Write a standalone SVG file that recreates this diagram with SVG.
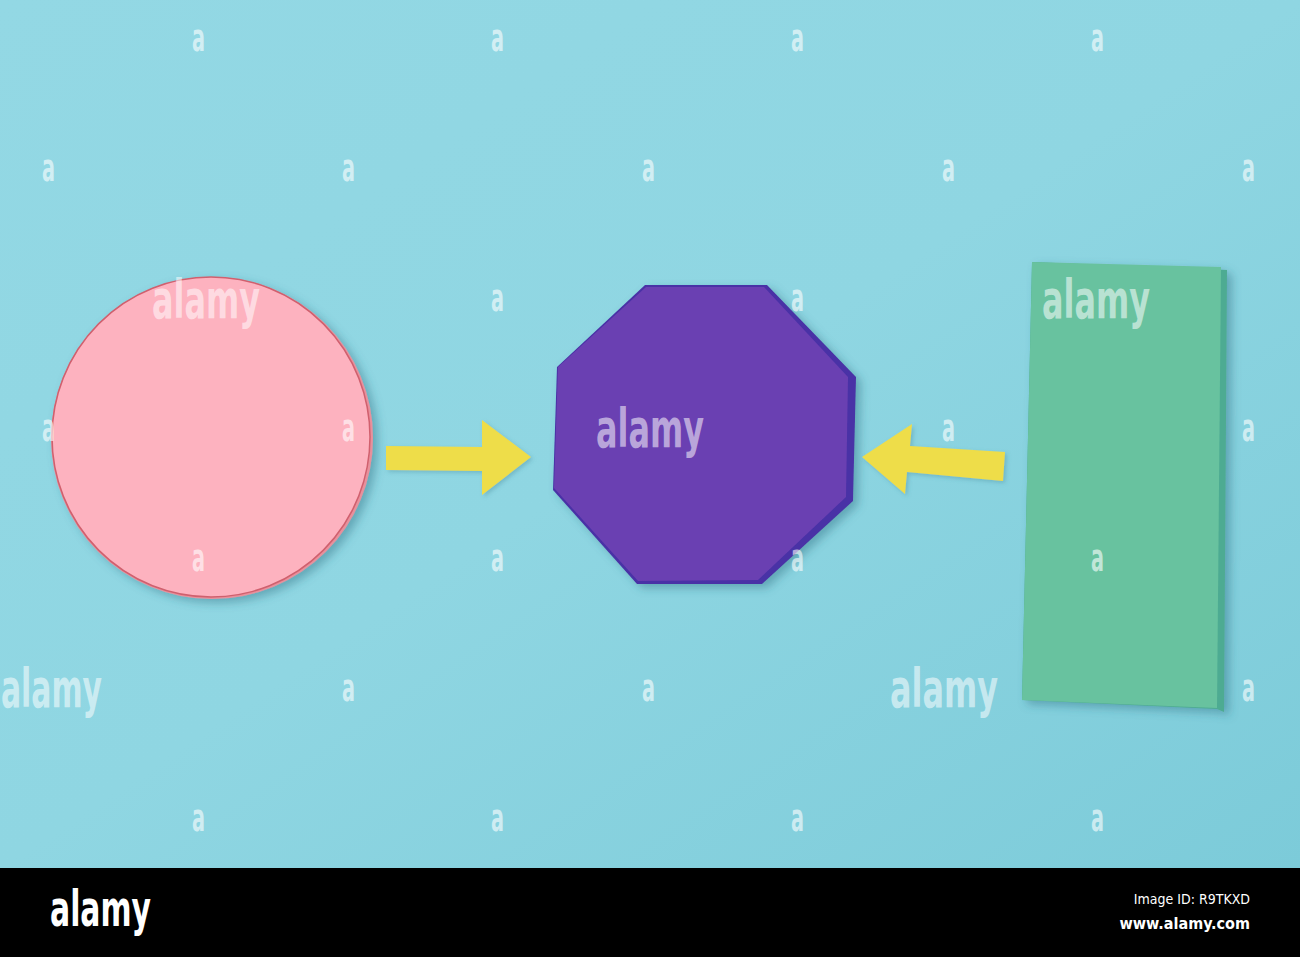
<svg xmlns="http://www.w3.org/2000/svg" width="1300" height="957" viewBox="0 0 1300 957">
<defs>
<linearGradient id="bg" x1="0" y1="0" x2="1" y2="1">
<stop offset="0" stop-color="#93d8e4"/>
<stop offset="0.5" stop-color="#8fd6e2"/>
<stop offset="1" stop-color="#7ccbd9"/>
</linearGradient>
<filter id="sh" x="-20%" y="-20%" width="150%" height="150%">
<feDropShadow dx="5" dy="4" stdDeviation="5" flood-color="#2a6f80" flood-opacity="0.45"/>
</filter>
<filter id="sh2" x="-20%" y="-40%" width="150%" height="190%">
<feDropShadow dx="2" dy="2" stdDeviation="2" flood-color="#3a8090" flood-opacity="0.35"/>
</filter>
</defs>
<style>
.wm{font-family:"DejaVu Sans Condensed","DejaVu Sans",sans-serif;font-weight:bold;fill:#ffffff;}
.big{font-size:54px;fill-opacity:0.55;}
.sm{font-size:38px;fill-opacity:0.6;}
.arrow{fill:#eedd48;filter:url(#sh2);}
.foot{font-family:"DejaVu Sans Condensed","DejaVu Sans",sans-serif;fill:#ffffff;}
</style>
<rect x="0" y="0" width="1300" height="868" fill="url(#bg)"/>

<g id="circle" filter="url(#sh)">
<ellipse cx="212" cy="438" rx="161" ry="161" fill="#e8909c"/>
<ellipse cx="211" cy="437" rx="159" ry="160" fill="#fdb2bf" stroke="#d0606e" stroke-width="1.5"/>
</g>

<g id="octagon" filter="url(#sh)">
<polygon points="645,285 767,285 856,377 853,501 762,584 637,584 553,490 557,367" fill="#4a30a6"/>
<polygon points="646,287 764,287 848,377 846,497 758,580 638,581 554,488 558,367" fill="#6a40b2"/>
</g>

<g id="rectangle" filter="url(#sh)">
<polygon points="1032,262 1227,270 1224,712 1217,709 1022,700" fill="#4eab92"/>
<polygon points="1032,262 1221,267 1217,708 1022,700" fill="#68c29f"/>
</g>

<g id="connectors">
<polygon class="arrow" points="386,446 482,447 482,420 531,457 482,495 482,471 386,470"/>
<polygon class="arrow" points="862,457 912,424 910,446 1005,452 1003,481 907,472 905,494"/>
</g>

<g id="watermark">
<text class="wm big" x="152" y="318" textLength="108" lengthAdjust="spacingAndGlyphs">alamy</text>
<text class="wm big" x="596" y="447" textLength="108" lengthAdjust="spacingAndGlyphs">alamy</text>
<text class="wm big" x="1042" y="318" textLength="108" lengthAdjust="spacingAndGlyphs">alamy</text>
<text class="wm big" x="1" y="707" textLength="101" lengthAdjust="spacingAndGlyphs">alamy</text>
<text class="wm big" x="890" y="707" textLength="108" lengthAdjust="spacingAndGlyphs">alamy</text>
<text class="wm sm" x="192" y="51" textLength="13" lengthAdjust="spacingAndGlyphs">a</text>
<text class="wm sm" x="491" y="51" textLength="13" lengthAdjust="spacingAndGlyphs">a</text>
<text class="wm sm" x="791" y="51" textLength="13" lengthAdjust="spacingAndGlyphs">a</text>
<text class="wm sm" x="1091" y="51" textLength="13" lengthAdjust="spacingAndGlyphs">a</text>
<text class="wm sm" x="42" y="181" textLength="13" lengthAdjust="spacingAndGlyphs">a</text>
<text class="wm sm" x="342" y="181" textLength="13" lengthAdjust="spacingAndGlyphs">a</text>
<text class="wm sm" x="642" y="181" textLength="13" lengthAdjust="spacingAndGlyphs">a</text>
<text class="wm sm" x="942" y="181" textLength="13" lengthAdjust="spacingAndGlyphs">a</text>
<text class="wm sm" x="1242" y="181" textLength="13" lengthAdjust="spacingAndGlyphs">a</text>
<text class="wm sm" x="491" y="311" textLength="13" lengthAdjust="spacingAndGlyphs">a</text>
<text class="wm sm" x="791" y="311" textLength="13" lengthAdjust="spacingAndGlyphs">a</text>
<text class="wm sm" x="42" y="441" textLength="13" lengthAdjust="spacingAndGlyphs">a</text>
<text class="wm sm" x="342" y="441" textLength="13" lengthAdjust="spacingAndGlyphs">a</text>
<text class="wm sm" x="942" y="441" textLength="13" lengthAdjust="spacingAndGlyphs">a</text>
<text class="wm sm" x="1242" y="441" textLength="13" lengthAdjust="spacingAndGlyphs">a</text>
<text class="wm sm" x="192" y="571" textLength="13" lengthAdjust="spacingAndGlyphs">a</text>
<text class="wm sm" x="491" y="571" textLength="13" lengthAdjust="spacingAndGlyphs">a</text>
<text class="wm sm" x="791" y="571" textLength="13" lengthAdjust="spacingAndGlyphs">a</text>
<text class="wm sm" x="1091" y="571" textLength="13" lengthAdjust="spacingAndGlyphs">a</text>
<text class="wm sm" x="342" y="701" textLength="13" lengthAdjust="spacingAndGlyphs">a</text>
<text class="wm sm" x="642" y="701" textLength="13" lengthAdjust="spacingAndGlyphs">a</text>
<text class="wm sm" x="1242" y="701" textLength="13" lengthAdjust="spacingAndGlyphs">a</text>
<text class="wm sm" x="192" y="831" textLength="13" lengthAdjust="spacingAndGlyphs">a</text>
<text class="wm sm" x="491" y="831" textLength="13" lengthAdjust="spacingAndGlyphs">a</text>
<text class="wm sm" x="791" y="831" textLength="13" lengthAdjust="spacingAndGlyphs">a</text>
<text class="wm sm" x="1091" y="831" textLength="13" lengthAdjust="spacingAndGlyphs">a</text>
</g>

<g id="footer">
<rect x="0" y="868" width="1300" height="89" fill="#000000"/>
<text class="foot" x="50" y="926" font-size="50" font-weight="bold" textLength="101" lengthAdjust="spacingAndGlyphs">alamy</text>
<text class="foot" x="1250" y="904" font-size="14" text-anchor="end">Image ID: R9TKXD</text>
<text class="foot" x="1250" y="929" font-size="16" font-weight="bold" text-anchor="end">www.alamy.com</text>
</g>
</svg>
